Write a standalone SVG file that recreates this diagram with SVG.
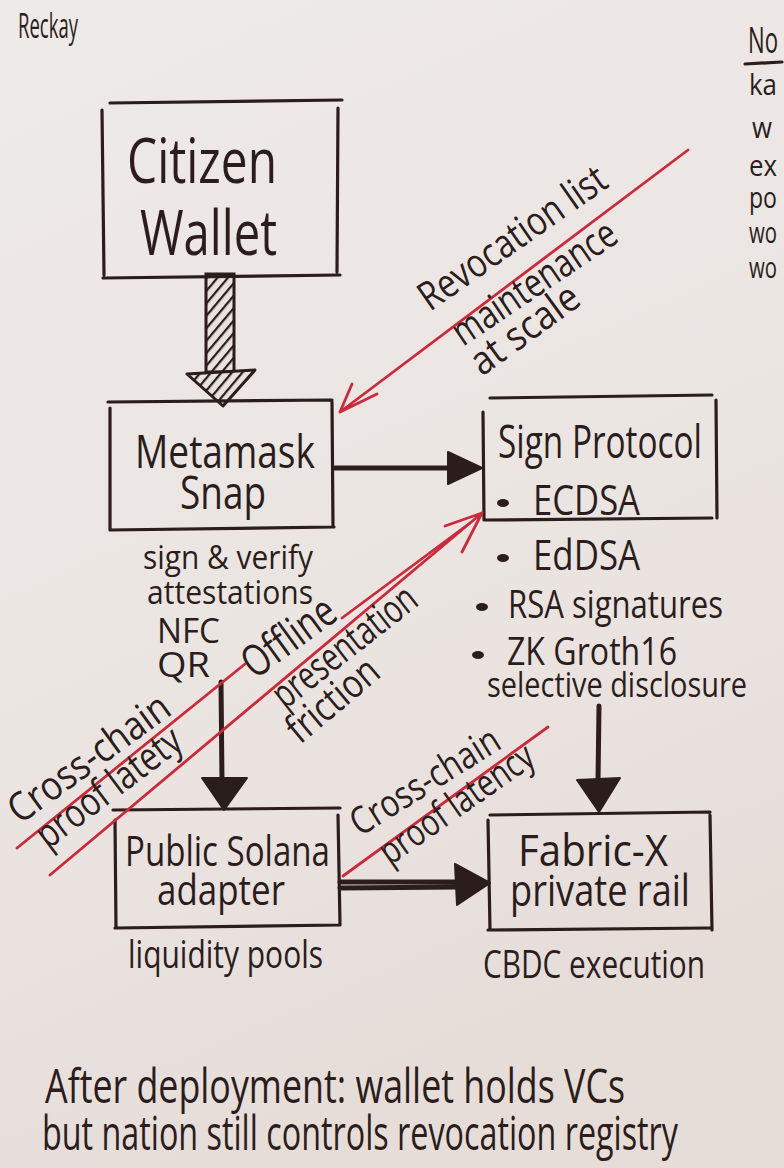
<svg xmlns="http://www.w3.org/2000/svg" width="784" height="1168" viewBox="0 0 784 1168">
<defs>
<linearGradient id="paper" x1="0" y1="0" x2="0.3" y2="1">
<stop offset="0" stop-color="#eeeae7"/>
<stop offset="0.6" stop-color="#ebe5e2"/>
<stop offset="1" stop-color="#e6ddd9"/>
</linearGradient>
<pattern id="hatch" patternUnits="userSpaceOnUse" width="8" height="8" patternTransform="rotate(40)">
<rect width="8" height="8" fill="#e9e3df"/>
<line x1="0" y1="0" x2="0" y2="8" stroke="#2b1d1c" stroke-width="4.5"/>
</pattern>
</defs>
<style>
.ink{fill:none;stroke:#2b1d1c;stroke-width:3.2;stroke-linecap:round;stroke-linejoin:round}
.thick{fill:none;stroke:#2b1d1c;stroke-width:5;stroke-linecap:round}
.head{fill:#2b1d1c;stroke:#2b1d1c;stroke-width:2;stroke-linejoin:round}
.red{fill:none;stroke:#cc2a3c;stroke-width:2.8;stroke-linecap:round;stroke-linejoin:round}
.t{font-family:'Open Sans','Liberation Sans',sans-serif;fill:#2b1d1c;font-weight:400}
</style>
<rect width="784" height="1168" fill="url(#paper)"/>

<text class="t" x="18" y="38" font-size="34" textLength="60" lengthAdjust="spacingAndGlyphs">Reckay</text>

<g id="notes-edge">
<text class="t" x="748" y="53" font-size="36" textLength="30" lengthAdjust="spacingAndGlyphs">No</text>
<path class="ink" d="M745 64 L782 62"/>
<text class="t" x="749" y="95" font-size="30" textLength="28" lengthAdjust="spacingAndGlyphs">ka</text>
<text class="t" x="752" y="138" font-size="30" textLength="20" lengthAdjust="spacingAndGlyphs">w</text>
<text class="t" x="749" y="176" font-size="30" textLength="28" lengthAdjust="spacingAndGlyphs">ex</text>
<text class="t" x="749" y="208" font-size="30" textLength="28" lengthAdjust="spacingAndGlyphs">po</text>
<text class="t" x="749" y="243" font-size="30" textLength="28" lengthAdjust="spacingAndGlyphs">wo</text>
<text class="t" x="749" y="278" font-size="30" textLength="28" lengthAdjust="spacingAndGlyphs">wo</text>
</g>

<g id="connectors">
<rect x="206" y="274" width="28" height="98" fill="url(#hatch)" stroke="#2b1d1c" stroke-width="3"/>
<polygon points="187,374 255,370 223,406" fill="url(#hatch)" stroke="#2b1d1c" stroke-width="3" stroke-linejoin="round"/>
<path class="thick" d="M335 468 L452 468"/>
<polygon class="head" points="448,452 482,468 448,484"/>
<path class="thick" d="M221 682 L222 782"/>
<polygon class="head" points="202,778 247,778 224,810"/>
<path class="thick" d="M599 706 L598 782"/>
<polygon class="head" points="577,780 620,778 599,812"/>
<path class="thick" d="M340 882 L460 882 M340 888 L460 887"/>
<polygon class="head" points="455,864 490,883 457,905"/>
</g>

<g id="node-citizen-wallet">
<path class="ink" d="M110 103 L342 100 M102 110 L104 275 M338 108 L337 272 M103 278 L340 275"/>
<text class="t" x="127" y="183" font-size="62" textLength="150" lengthAdjust="spacingAndGlyphs">Citizen</text>
<text class="t" x="140" y="255" font-size="62" textLength="137" lengthAdjust="spacingAndGlyphs">Wallet</text>
</g>

<g id="node-metamask-snap">
<path class="ink" d="M108 402 L332 400 M110 408 L110 530 M332 402 L333 527 M110 530 L334 527"/>
<text class="t" x="135" y="468" font-size="46" textLength="180" lengthAdjust="spacingAndGlyphs">Metamask</text>
<text class="t" x="180" y="509" font-size="46" textLength="86" lengthAdjust="spacingAndGlyphs">Snap</text>
<text class="t" x="143" y="569" font-size="32" textLength="170" lengthAdjust="spacingAndGlyphs">sign &amp; verify</text>
<text class="t" x="147" y="604" font-size="32" textLength="166" lengthAdjust="spacingAndGlyphs">attestations</text>
<text class="t" x="157" y="643" font-size="35" textLength="63" lengthAdjust="spacingAndGlyphs">NFC</text>
<text class="t" x="157" y="677" font-size="35" textLength="53" lengthAdjust="spacingAndGlyphs">QR</text>
</g>

<g id="node-sign-protocol">
<path class="ink" d="M490 398 L712 395 M483 412 L484 520 M716 400 L717 518 M485 520 L712 518"/>
<text class="t" x="498" y="458" font-size="46" textLength="204" lengthAdjust="spacingAndGlyphs">Sign Protocol</text>
<ellipse cx="503" cy="503" rx="6" ry="4" fill="#2b1d1c"/>
<text class="t" x="533" y="515" font-size="42" textLength="107" lengthAdjust="spacingAndGlyphs">ECDSA</text>
<ellipse cx="503" cy="558" rx="6" ry="4" fill="#2b1d1c"/>
<text class="t" x="533" y="570" font-size="42" textLength="107" lengthAdjust="spacingAndGlyphs">EdDSA</text>
<ellipse cx="482" cy="607" rx="6" ry="4" fill="#2b1d1c"/>
<text class="t" x="508" y="618" font-size="38" textLength="215" lengthAdjust="spacingAndGlyphs">RSA signatures</text>
<ellipse cx="478" cy="655" rx="6" ry="4" fill="#2b1d1c"/>
<text class="t" x="507" y="665" font-size="38" textLength="170" lengthAdjust="spacingAndGlyphs">ZK Groth16</text>
<text class="t" x="487" y="697" font-size="34" textLength="260" lengthAdjust="spacingAndGlyphs">selective disclosure</text>
</g>

<g id="node-solana">
<path class="ink" d="M113 810 L340 808 M115 820 L116 928 M338 815 L340 925 M115 928 L340 925"/>
<text class="t" x="125" y="866" font-size="42" textLength="205" lengthAdjust="spacingAndGlyphs">Public Solana</text>
<text class="t" x="157" y="905" font-size="42" textLength="128" lengthAdjust="spacingAndGlyphs">adapter</text>
<text class="t" x="128" y="968" font-size="38" textLength="195" lengthAdjust="spacingAndGlyphs">liquidity pools</text>
</g>

<g id="node-fabric-x">
<path class="ink" d="M490 815 L710 812 M488 820 L490 930 M710 815 L712 930 M488 930 L710 928"/>
<text class="t" x="518" y="866" font-size="44" textLength="150" lengthAdjust="spacingAndGlyphs">Fabric-X</text>
<text class="t" x="510" y="906" font-size="44" textLength="180" lengthAdjust="spacingAndGlyphs">private rail</text>
<text class="t" x="483" y="978" font-size="38" textLength="222" lengthAdjust="spacingAndGlyphs">CBDC execution</text>
</g>

<g id="red-annotations">
<path class="red" d="M688 150 L340 412 M340 412 L352 384 M340 412 L377 394"/>
<path class="red" d="M17 848 L245 664 M342 618 L470 523"/>
<path class="red" d="M50 875 L482 513 M482 513 L445 526 M482 513 L462 552"/>
<path class="red" d="M343 876 L548 727"/>
</g>

<g id="annotation-text">
<text class="t" font-size="40" textLength="220" lengthAdjust="spacingAndGlyphs" transform="translate(430,312) rotate(-35)">Revocation list</text>
<text class="t" font-size="40" textLength="190" lengthAdjust="spacingAndGlyphs" transform="translate(463,347) rotate(-34)">maintenance</text>
<text class="t" font-size="40" textLength="125" lengthAdjust="spacingAndGlyphs" transform="translate(482,377) rotate(-36)">at scale</text>
<text class="t" font-size="40" textLength="190" lengthAdjust="spacingAndGlyphs" transform="translate(20,825) rotate(-36)">Cross-chain</text>
<text class="t" font-size="40" textLength="172" lengthAdjust="spacingAndGlyphs" transform="translate(48,850) rotate(-37)">proof latety</text>
<text class="t" font-size="44" textLength="105" lengthAdjust="spacingAndGlyphs" transform="translate(255,680) rotate(-36)">Offline</text>
<text class="t" font-size="40" textLength="172" lengthAdjust="spacingAndGlyphs" transform="translate(285,710) rotate(-38)">presentation</text>
<text class="t" font-size="40" textLength="108" lengthAdjust="spacingAndGlyphs" transform="translate(300,745) rotate(-40)">friction</text>
<text class="t" font-size="38" textLength="169" lengthAdjust="spacingAndGlyphs" transform="translate(360,837) rotate(-32)">Cross-chain</text>
<text class="t" font-size="38" textLength="180" lengthAdjust="spacingAndGlyphs" transform="translate(390,866) rotate(-35)">proof latency</text>
</g>

<g id="footer">
<text class="t" x="45" y="1103" font-size="48" textLength="580" lengthAdjust="spacingAndGlyphs">After deployment: wallet holds VCs</text>
<text class="t" x="42" y="1150" font-size="48" textLength="636" lengthAdjust="spacingAndGlyphs">but nation still controls revocation registry</text>
</g>
</svg>
